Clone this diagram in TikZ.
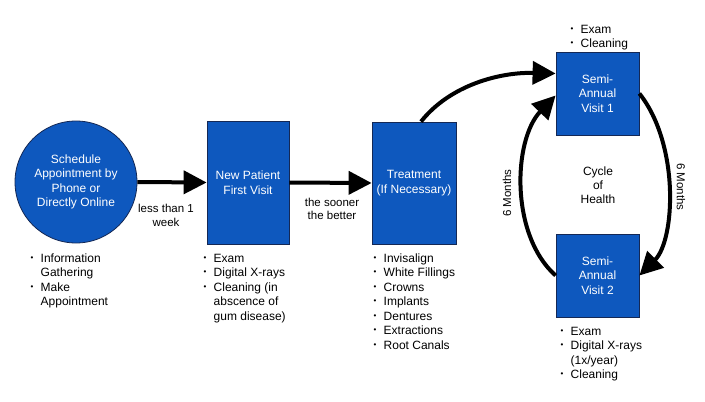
\documentclass[tikz,border=0pt]{standalone}
\usepackage{fontspec}
\setmainfont{Liberation Sans}
\usetikzlibrary{arrows.meta}
\definecolor{boxblue}{RGB}{14,88,190}
\definecolor{boxedge}{RGB}{20,40,85}
\newcommand{\bul}{\makebox[9.5pt][l]{\hspace*{-0.5pt}\raisebox{2.2pt}{\fontsize{8}{8}\selectfont\textbullet}}}
\newcommand{\blist}[1]{\begin{tabular}{@{}l@{}l@{}}#1\end{tabular}}
\tikzset{
  bluebox/.style={draw=boxedge, line width=0.8pt, fill=boxblue, text=white, align=center,
    font=\fontsize{12}{14.5}\selectfont, inner sep=0pt},
  lst/.style={anchor=north west, inner sep=0pt, font=\fontsize{12}{14.5}\selectfont},
  lbl/.style={align=center, inner sep=0pt, font=\fontsize{11.5}{13.5}\selectfont},
  arr/.style={line width=4pt, -{Triangle[length=23pt,width=23pt]}},
}
\begin{document}
\begin{tikzpicture}[x=1pt,y=-1pt]
\useasboundingbox[fill=white] (0,0) rectangle (705,402);

\node[bluebox, circle, minimum size=122pt] (sched) at (76,182)
  {Schedule\\Appointment by\\Phone or\\Directly Online};
\node[bluebox, minimum width=82pt, minimum height=123pt] (np) at (248,182.5)
  {New Patient\\First Visit};
\node[bluebox, minimum width=84pt, minimum height=122pt] (treat) at (414,183)
  {Treatment\\(If Necessary)};
\node[bluebox, minimum width=83pt, minimum height=83pt] (v1) at (597.5,93.5)
  {Semi-\\Annual\\Visit 1};
\node[bluebox, minimum width=83pt, minimum height=83pt] (v2) at (597.5,275.5)
  {Semi-\\Annual\\Visit 2};

\draw[arr] (sched.east) -- (np.west);
\draw[arr] (np.east) -- (treat.west);
\draw[arr] ([xshift=7pt]treat.north) .. controls (450,85) and (500,72) .. ([yshift=20pt]v1.west);
\draw[arr] (v1.east) .. controls (680,145) and (675,240) .. (v2.east);
\draw[arr] (v2.west) .. controls (510,235) and (513,140) .. ([yshift=-2pt]v1.west);

\node[lbl] (l1) at (166,215.5) {less than 1\\week};
\node[lbl] (l2) at (332,209) {the sooner\\the better};
\node[lbl, font=\fontsize{12}{14.2}\selectfont] (cyc) at (598,185) {Cycle\\of\\Health};
\node[lbl, rotate=90] (m1) at (507,193) {6 Months};
\node[lbl, rotate=-90] (m2) at (681,187) {6 Months};

\node[lst] (list1) at (31,252) {\blist{\bul & Information\\ & Gathering\\ \bul & Make\\ & Appointment}};
\node[lst] (list2) at (204,252) {\blist{\bul & Exam\\ \bul & Digital X-rays\\ \bul & Cleaning (in\\ & abscence of\\ & gum disease)}};
\node[lst] (list3) at (374,252) {\blist{\bul & Invisalign\\ \bul & White Fillings\\ \bul & Crowns\\ \bul & Implants\\ \bul & Dentures\\ \bul & Extractions\\ \bul & Root Canals}};
\node[lst] (list4) at (571,23) {\blist{\bul & Exam\\ \bul & Cleaning}};
\node[lst] (list5) at (561,325) {\blist{\bul & Exam\\ \bul & Digital X-rays\\ & (1x/year)\\ \bul & Cleaning}};
\end{tikzpicture}
\end{document}
